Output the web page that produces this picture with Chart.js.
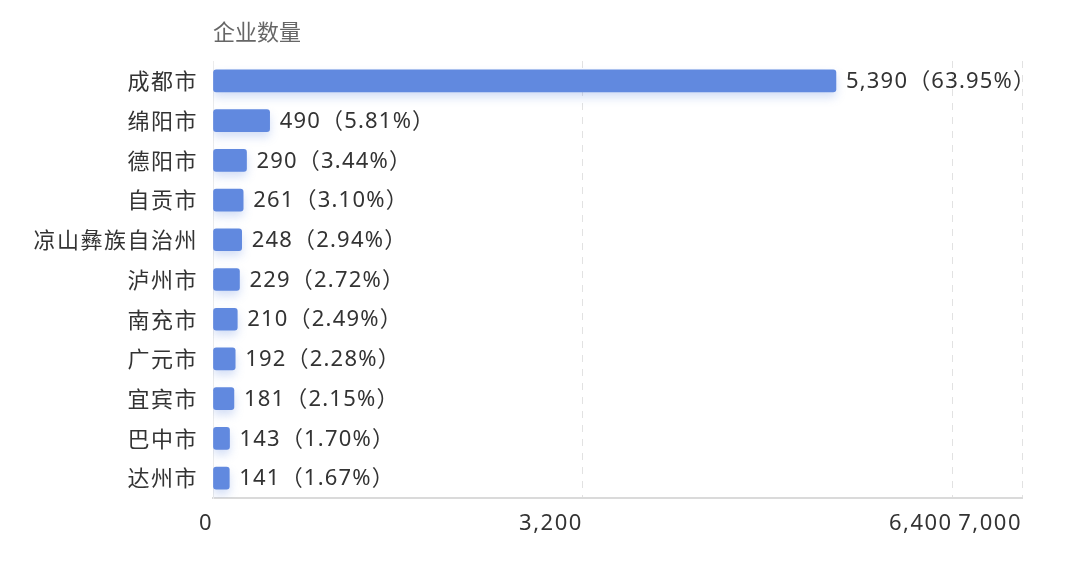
<!DOCTYPE html>
<html>
<head>
<meta charset="utf-8">
<script src="https://cdn.jsdelivr.net/npm/chart.js@4/dist/chart.umd.min.js"></script>
<style>
  html, body { margin: 0; padding: 0; background: #ffffff; }
  #wrap { width: 1080px; height: 563px; position: relative; }
</style>
</head>
<body>
<div id="wrap"><canvas id="c" width="1080" height="563"></canvas></div>
<script>
const categories = ['成都市', '绵阳市', '德阳市', '自贡市', '凉山彝族自治州', '泸州市', '南充市', '广元市', '宜宾市', '巴中市', '达州市'];
const counts = [5390, 490, 290, 261, 248, 229, 210, 192, 181, 143, 141];
const percents = ['63.95%', '5.81%', '3.44%', '3.10%', '2.94%', '2.72%', '2.49%', '2.28%', '2.15%', '1.70%', '1.67%'];
const xTicks = [0, 3200, 6400, 7000];
const axisTitle = '企业数量';

const FONT = '"Noto Sans", "Noto Sans CJK SC", sans-serif';
const CJK = '"Noto Sans CJK SC", sans-serif';

const fmt = v => v.toLocaleString('en-US');

const spacingPlugin = {
  id: 'spacing',
  beforeDraw(chart) {
    chart.ctx.letterSpacing = '1.5px';
  }
};

const titlePlugin = {
  id: 'axisTitle',
  afterDraw(chart) {
    const ctx = chart.ctx;
    ctx.save();
    ctx.letterSpacing = '0px';
    ctx.font = '22px ' + CJK;
    ctx.fillStyle = '#666666';
    ctx.textAlign = 'left';
    ctx.textBaseline = 'middle';
    ctx.fillText(axisTitle, chart.chartArea.left, 32);
    ctx.restore();
  }
};

const labelPlugin = {
  id: 'barLabels',
  afterDatasetsDraw(chart) {
    const ctx = chart.ctx;
    const meta = chart.getDatasetMeta(0);
    ctx.save();
    ctx.letterSpacing = '1.2px';
    ctx.font = '22px ' + FONT;
    ctx.fillStyle = '#333333';
    ctx.textAlign = 'left';
    ctx.textBaseline = 'middle';
    meta.data.forEach((bar, i) => {
      ctx.fillText(fmt(counts[i]) + '（' + percents[i] + '）', bar.x + 10, bar.y + 1);
    });
    ctx.restore();
  }
};

const shadowPlugin = {
  id: 'barShadow',
  beforeDatasetsDraw(chart) {
    const ctx = chart.ctx;
    ctx.save();
    ctx.shadowColor = 'rgba(97,137,223,0.28)';
    ctx.shadowBlur = 10;
    ctx.shadowOffsetY = 5;
  },
  afterDatasetsDraw(chart) {
    chart.ctx.restore();
  }
};

new Chart(document.getElementById('c'), {
  type: 'bar',
  data: {
    labels: categories,
    datasets: [{
      data: counts,
      backgroundColor: '#6189DF',
      borderRadius: 3,
      borderSkipped: false,
      barThickness: 22
    }]
  },
  options: {
    indexAxis: 'y',
    responsive: false,
    animation: false,
    devicePixelRatio: 1,
    layout: { padding: { top: 61, right: 58, left: 0, bottom: 0 } },
    plugins: { legend: { display: false }, tooltip: { enabled: false } },
    scales: {
      x: {
        min: 0,
        max: 7000,
        afterBuildTicks: s => { s.ticks = xTicks.map(v => ({ value: v })); },
        afterFit: s => { s.height = 65; },
        grid: {
          drawTicks: false,
          color: ctx => (ctx.tick && ctx.tick.value === 0) ? 'rgba(0,0,0,0)' : '#e2e2e2',
          lineWidth: 1
        },
        border: { display: true, color: '#dadada', width: 2, dash: [7, 7] },
        ticks: {
          align: 'end',
          padding: 13,
          color: '#333333',
          font: { family: FONT, size: 22 },
          callback: v => fmt(v)
        }
      },
      y: {
        afterFit: s => { s.width = 213; },
        grid: { display: false, drawTicks: false },
        border: { display: true, color: '#ececec', width: 1 },
        ticks: {
          padding: 15,
          color: '#333333',
          font: { family: CJK, size: 22 }
        }
      }
    }
  },
  plugins: [spacingPlugin, titlePlugin, shadowPlugin, labelPlugin]
});
</script>
</body>
</html>
